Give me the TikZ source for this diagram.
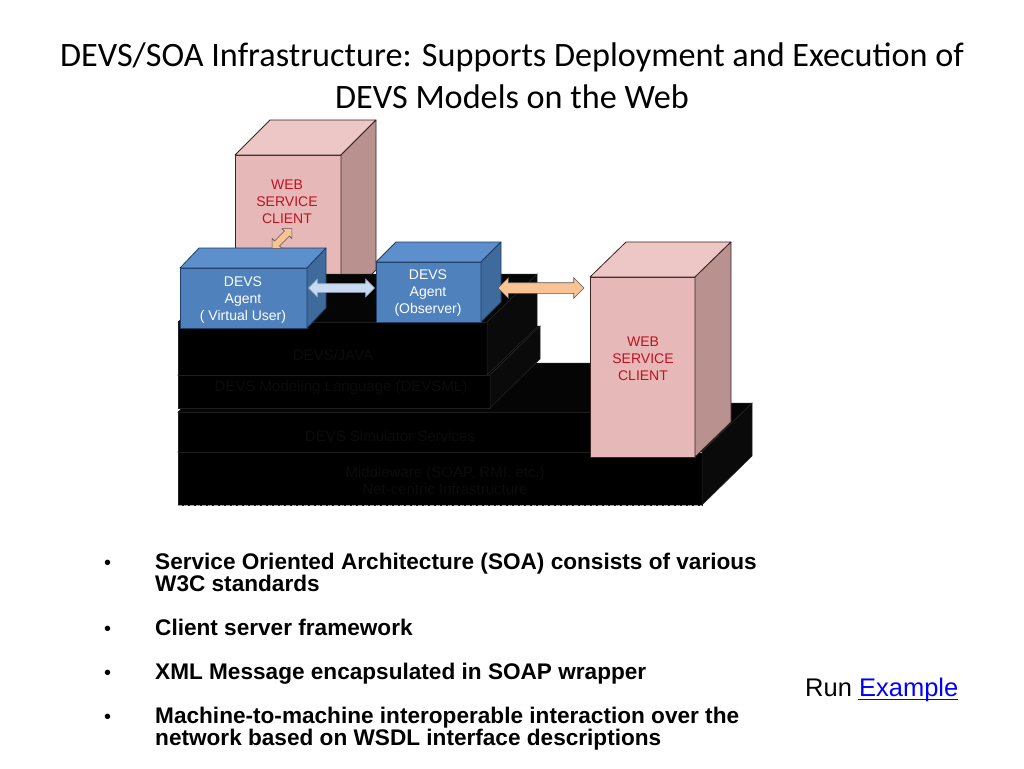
\documentclass[tikz,border=0pt]{standalone}
\usepackage{fontspec}
\setmainfont{Liberation Sans}
\newfontfamily\titlefont{Carlito}
\usetikzlibrary{shapes.arrows,calc}

\definecolor{pinkF}{HTML}{E6B9B8}
\definecolor{pinkT}{HTML}{EDC7C6}
\definecolor{pinkS}{HTML}{B9918F}
\definecolor{pinkE}{HTML}{3A2424}
\definecolor{blueF}{HTML}{4F81BD}
\definecolor{blueT}{HTML}{5C8FCC}
\definecolor{blueS}{HTML}{3E6A9C}
\definecolor{blueE}{HTML}{213F66}
\definecolor{wscred}{HTML}{C0111F}
\definecolor{laytext}{HTML}{0C0C0C}
\definecolor{arrOr}{HTML}{F9C393}
\definecolor{arrBl}{HTML}{C6DAF2}
\definecolor{linkblue}{HTML}{0000FF}

\newcommand\cubetopside[4]{%
  \filldraw[#4top] (#1.north west) -- ++(#2,-#3) -- ($(#1.north east)+(#2,-#3)$) -- (#1.north east) -- cycle;
  \filldraw[#4side] (#1.north east) -- ++(#2,-#3) -- ($(#1.south east)+(#2,-#3)$) -- (#1.south east) -- cycle;
}

\tikzset{
  pinkfront/.style={fill=pinkF, draw=pinkE, line width=0.8pt, inner sep=0pt, outer sep=0pt, anchor=north west},
  pinktop/.style={fill=pinkT, draw=pinkE, line width=0.8pt, line join=round},
  pinkside/.style={fill=pinkS, draw=pinkE, line width=0.8pt, line join=round},
  bluefront/.style={fill=blueF, draw=blueE, line width=0.8pt, inner sep=0pt, outer sep=0pt, anchor=north west},
  bluetop/.style={fill=blueT, draw=blueE, line width=0.8pt, line join=round},
  blueside/.style={fill=blueS, draw=blueE, line width=0.8pt, line join=round},
  layfront/.style={fill=black, draw=black!88, line width=0.5pt, inner sep=0pt, outer sep=0pt, anchor=north west},
  laytop/.style={fill=black!98, draw=black!88, line width=0.5pt},
  layside/.style={fill=black!96, draw=black!85, line width=0.5pt},
  laytxt/.style={text=laytext, font=\fontsize{15}{17}\selectfont, align=center, inner sep=0pt},
  wsctxt/.style={text=wscred, font=\fontsize{14}{17}\selectfont, align=center, inner sep=0pt},
  agtxt/.style={text=white, font=\fontsize{14}{17}\selectfont, align=center, inner sep=0pt},
  blockarrow/.style={double arrow, double arrow head indent=0pt, inner xsep=0pt, outer sep=0pt, line width=0.6pt},
  bultxt/.style={font=\bfseries\fontsize{22.6}{22}\selectfont, anchor=base west, inner sep=0pt},
  dashline/.style={draw=black!35, line width=0.6pt, dash pattern=on 4pt off 2pt},
}

\begin{document}
\begin{tikzpicture}[x=1pt, y=-1pt]
\useasboundingbox[fill=white] (0,0) rectangle (1024,768);

% title
\node[font=\titlefont\fontsize{34.2}{42}\selectfont, align=center] (title) at (512,76)
  {DEVS/SOA Infrastructure: Supports Deployment and Execution of\\DEVS Models on the Web};

% left web service client (behind agents)
\node[pinkfront, minimum width=106, minimum height=150] (wscA) at (235,155) {};
\cubetopside{wscA}{35}{35}{pink}

% layers
\node[layfront, minimum width=524, minimum height=53] (mid) at (178,452) {};
\cubetopside{mid}{50}{49}{lay}
\draw[dashline] (mid.north west) -- (mid.north east);
\draw[dashline] (mid.south west) -- (mid.south east);

\node[layfront, minimum width=462, minimum height=40] (sim) at (178,412) {};
\cubetopside{sim}{50}{49}{lay}

\node[layfront, minimum width=312, minimum height=33] (dsml) at (178,375) {};
\cubetopside{dsml}{50}{49}{lay}

\node[layfront, minimum width=309, minimum height=53] (djava) at (178,322) {};
\cubetopside{djava}{50}{48}{lay}

\node[laytxt] (tjava) at (333,355) {DEVS/JAVA};
\node[laytxt] (tdsml) at (341,388) {DEVS Modeling Language (DEVSML)};
\node[laytxt] (tsim) at (390,436) {DEVS Simulator Services};
\node[laytxt] (tmid) at (445,481) {Middleware (SOAP, RMI, etc.)\\Net-centric Infrastructure};

% text of left WSC (on visible part)
\node[wsctxt] (wscAt) at (287,202) {WEB\\SERVICE\\CLIENT};

% agents
\node[bluefront, minimum width=127, minimum height=60] (agA) at (180,268) {};
\cubetopside{agA}{19}{20}{blue}
\node[agtxt] (agAt) at (243,300) {DEVS\\Agent\\( Virtual User)};

\node[bluefront, minimum width=105, minimum height=60] (agB) at (376,262) {};
\cubetopside{agB}{20}{20}{blue}
\node[agtxt] (agBt) at (428,293) {DEVS\\Agent\\(Observer)};

% right web service client
\node[pinkfront, minimum width=105, minimum height=180] (wscB) at (590,277) {};
\cubetopside{wscB}{36}{35}{pink}
\node[wsctxt] (wscBt) at (643,359) {WEB\\SERVICE\\CLIENT};

% block arrows
\node[blockarrow, fill=arrOr, draw=black!65, minimum height=28, inner ysep=3.2pt,
      double arrow head extend=3.5pt, rotate=45] (arrA) at (282,238.5) {};
\node[blockarrow, fill=arrBl, draw=blueE!45, minimum height=66, inner ysep=4pt,
      double arrow head extend=4.5pt] (arrB) at ($(agA.north east)!0.5!(agB.north west)+(0,23)$) {};
\node[blockarrow, fill=arrOr, draw=black!65, minimum height=86, inner ysep=5pt,
      double arrow head extend=5pt] (arrC) at (541,288) {};

% bullets
\foreach \yy in {569,635,679,723} {
  \node[bultxt, font=\fontsize{20}{22}\selectfont] at (104,\yy) {•};
}
\node[bultxt] (b1) at (155,569) {Service Oriented Architecture (SOA) consists of various};
\node[bultxt] (b1b) at (155,591) {W3C standards};
\node[bultxt] (b2) at (155,635) {Client server framework};
\node[bultxt] (b3) at (155,679) {XML Message encapsulated in SOAP wrapper};
\node[bultxt] (b4) at (155,723) {Machine-to-machine interoperable interaction over the};
\node[bultxt] (b4b) at (155,745) {network based on WSDL interface descriptions};

% run example
\node[font=\fontsize{25.5}{28}\selectfont, anchor=base west, inner sep=0pt] (run) at (805,696)
  {Run \textcolor{linkblue}{Example}};
\draw[linkblue, line width=1pt] ($(run.base east)+(-100,3)$) -- ($(run.base east)+(0,3)$);
\end{tikzpicture}
\end{document}
